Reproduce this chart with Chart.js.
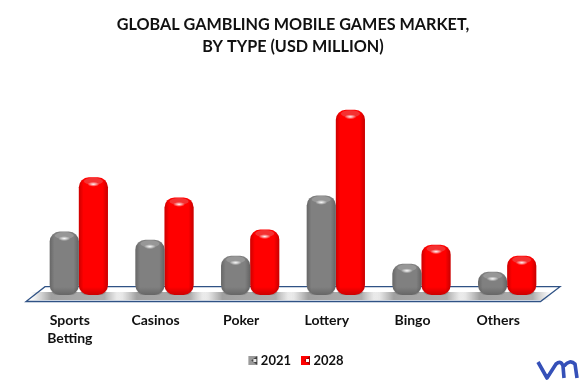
<!DOCTYPE html>
<html>
<head>
<meta charset="utf-8">
<style>
  html, body { margin: 0; padding: 0; background: #fff; }
  #wrap { width: 583px; height: 382px; }
</style>
<script src="https://cdn.jsdelivr.net/npm/chart.js@4"></script>
</head>
<body>
<div id="wrap"><canvas id="marketChart" width="583" height="382"></canvas></div>
<script>
// Values are read off the picture, the chart has no value axis
const categories = [["Sports", "Betting"], "Casinos", "Poker", "Lottery", "Bingo", "Others"];
const values2021 = [63, 55, 39, 99, 31, 23];
const values2028 = [117, 97, 65, 184, 50, 39];
const titleLines = ["GLOBAL GAMBLING MOBILE GAMES MARKET,", "BY TYPE (USD MILLION)"];

const GRAY = "#808080";
const RED = "#ff0000";
const FONT = "Lato, Carlito, 'Open Sans', sans-serif";

// To make the little legend swatches, the square sits in the right half of the canvas
function makeSwatch(base, dark, light) {
    const c = document.createElement("canvas");
    c.width = 20;
    c.height = 9;
    const g = c.getContext("2d");
    g.translate(10, 0);
    g.fillStyle = base;
    g.fillRect(0, 0, 9, 9);
    g.fillStyle = dark;
    g.beginPath();
    g.moveTo(9, 0);
    g.lineTo(3, 4.5);
    g.lineTo(9, 9);
    g.fill();
    g.fillStyle = light;
    g.fillRect(5, 3, 3, 3);
    return c;
}

function roundedBar(g, x, y, w, h, r) {
    g.beginPath();
    g.roundRect(x, y, w, h, r);
}

// To draw the floor under the bars and its shadows
const floorPlugin = {
    id: "floor",
    beforeDatasetsDraw(chart) {
        const g = chart.ctx;
        const base = chart.scales.y.getPixelForValue(0);
        const left = chart.chartArea.left;
        const right = chart.chartArea.right;
        g.save();

        categories.forEach((c, i) => {
            const cx = chart.scales.x.getPixelForValue(i);
            const grad = g.createLinearGradient(cx - 48, 0, cx + 44, 0);
            grad.addColorStop(0, "rgba(170,170,170,0)");
            grad.addColorStop(0.22, "rgba(150,150,150,0.9)");
            grad.addColorStop(0.8, "rgba(165,165,165,0.9)");
            grad.addColorStop(1, "rgba(190,190,190,0)");
            g.fillStyle = grad;
            g.fillRect(cx - 48, base - 3, 92, 8);
        });

        g.strokeStyle = "#2f5285";
        g.lineWidth = 1.3;
        g.beginPath();
        g.moveTo(left + 9, base - 8.3);
        g.lineTo(right + 10, base - 8.3);
        g.lineTo(right - 9.5, base + 6.5);
        g.lineTo(left - 10, base + 6.5);
        g.closePath();
        g.stroke();
        g.restore();
    },
    // To give the bars their round look
    afterDatasetsDraw(chart) {
        const g = chart.ctx;
        g.save();
        chart.data.datasets.forEach((ds, d) => {
            chart.getDatasetMeta(d).data.forEach((bar) => {
                const p = bar.getProps(["x", "y", "base", "width"], true);
                const x = p.x - p.width / 2;
                const h = p.base - p.y;

                const side = g.createLinearGradient(x, 0, x + p.width, 0);
                side.addColorStop(0, "rgba(0,0,0,0.2)");
                side.addColorStop(0.16, "rgba(0,0,0,0)");
                side.addColorStop(0.82, "rgba(0,0,0,0)");
                side.addColorStop(1, "rgba(0,0,0,0.22)");
                roundedBar(g, x, p.y, p.width, h, 10);
                g.fillStyle = side;
                g.fill();

                // Lighter cap and shine on top
                g.fillStyle = d === 0 ? "rgba(170,170,170,0.55)" : "rgba(235,90,90,0.55)";
                g.beginPath();
                g.ellipse(p.x, p.y + 4, p.width / 2 - 5, 3.5, 0, 0, Math.PI * 2);
                g.fill();
                const shine = g.createRadialGradient(p.x, p.y + 7, 0, p.x, p.y + 7, 6);
                shine.addColorStop(0, "rgba(255,255,255,0.95)");
                shine.addColorStop(1, "rgba(255,255,255,0)");
                g.fillStyle = shine;
                g.save();
                g.translate(0, (p.y + 7) * 0.6);
                g.scale(1, 0.4);
                g.fillRect(p.x - 7, p.y + 7 - 7, 14, 14);
                g.restore();

                // Dark curve along the bottom
                const low = g.createLinearGradient(0, p.base - 8, 0, p.base);
                low.addColorStop(0, "rgba(0,0,0,0)");
                low.addColorStop(1, "rgba(0,0,0,0.2)");
                roundedBar(g, x, p.base - 8, p.width, 8, [0, 0, 10, 10]);
                g.fillStyle = low;
                g.fill();
            });
        });
        g.restore();
    },
    // To draw the logo in the corner
    afterDraw(chart) {
        const g = chart.ctx;
        g.save();
        g.strokeStyle = "#3550b8";
        g.lineWidth = 3.6;
        g.lineJoin = "round";
        g.beginPath();
        g.moveTo(538, 362);
        g.lineTo(547, 378);
        g.lineTo(556, 364);
        g.quadraticCurveTo(561, 360, 563, 366);
        g.lineTo(564, 378);
        g.moveTo(564, 366);
        g.quadraticCurveTo(570, 359, 575, 364);
        g.lineTo(577, 378);
        g.stroke();
        g.restore();
    }
};

const ctx = document.getElementById("marketChart").getContext("2d");
const chart = new Chart(ctx, {
    type: "bar",
    data: {
        labels: categories,
        datasets: [
            { label: "2021", data: values2021, backgroundColor: GRAY, pointStyle: makeSwatch("#9a9a9a", "#3c3c3c", "#e8e8e8") },
            { label: "2028", data: values2028, backgroundColor: RED, pointStyle: makeSwatch("#ff0000", "#a00000", "#ffffff") }
        ]
    },
    options: {
        responsive: false,
        animation: false,
        layout: { padding: { left: 36, right: 33, top: 0, bottom: 5 } },
        datasets: {
            bar: {
                categoryPercentage: 0.68,
                barPercentage: 1,
                borderRadius: 10,
                borderSkipped: false
            }
        },
        scales: {
            x: {
                // To let the labels sit closer to the legend
                afterFit(scale) {
                    scale.height -= 14;
                },
                grid: { display: false, drawTicks: false },
                border: { display: false },
                ticks: {
                    color: "#111",
                    padding: 17,
                    labelOffset: -9,
                    maxRotation: 0,
                    font: { family: FONT, size: 14, weight: "bold", lineHeight: 1.25 }
                }
            },
            y: { display: false, min: 0, max: 200 }
        },
        plugins: {
            title: {
                display: true,
                text: titleLines,
                color: "#111",
                padding: { top: 14, bottom: 36 },
                font: { family: FONT, size: 16.2, weight: "bold", lineHeight: 1.35 }
            },
            legend: {
                position: "bottom",
                labels: {
                    usePointStyle: true,
                    pointStyleWidth: 12,
                    color: "#111",
                    boxHeight: 9,
                    padding: 4,
                    font: { family: FONT, size: 13, weight: "bold" }
                }
            },
            tooltip: { enabled: false }
        }
    },
    plugins: [floorPlugin]
});
</script>
</body>
</html>
